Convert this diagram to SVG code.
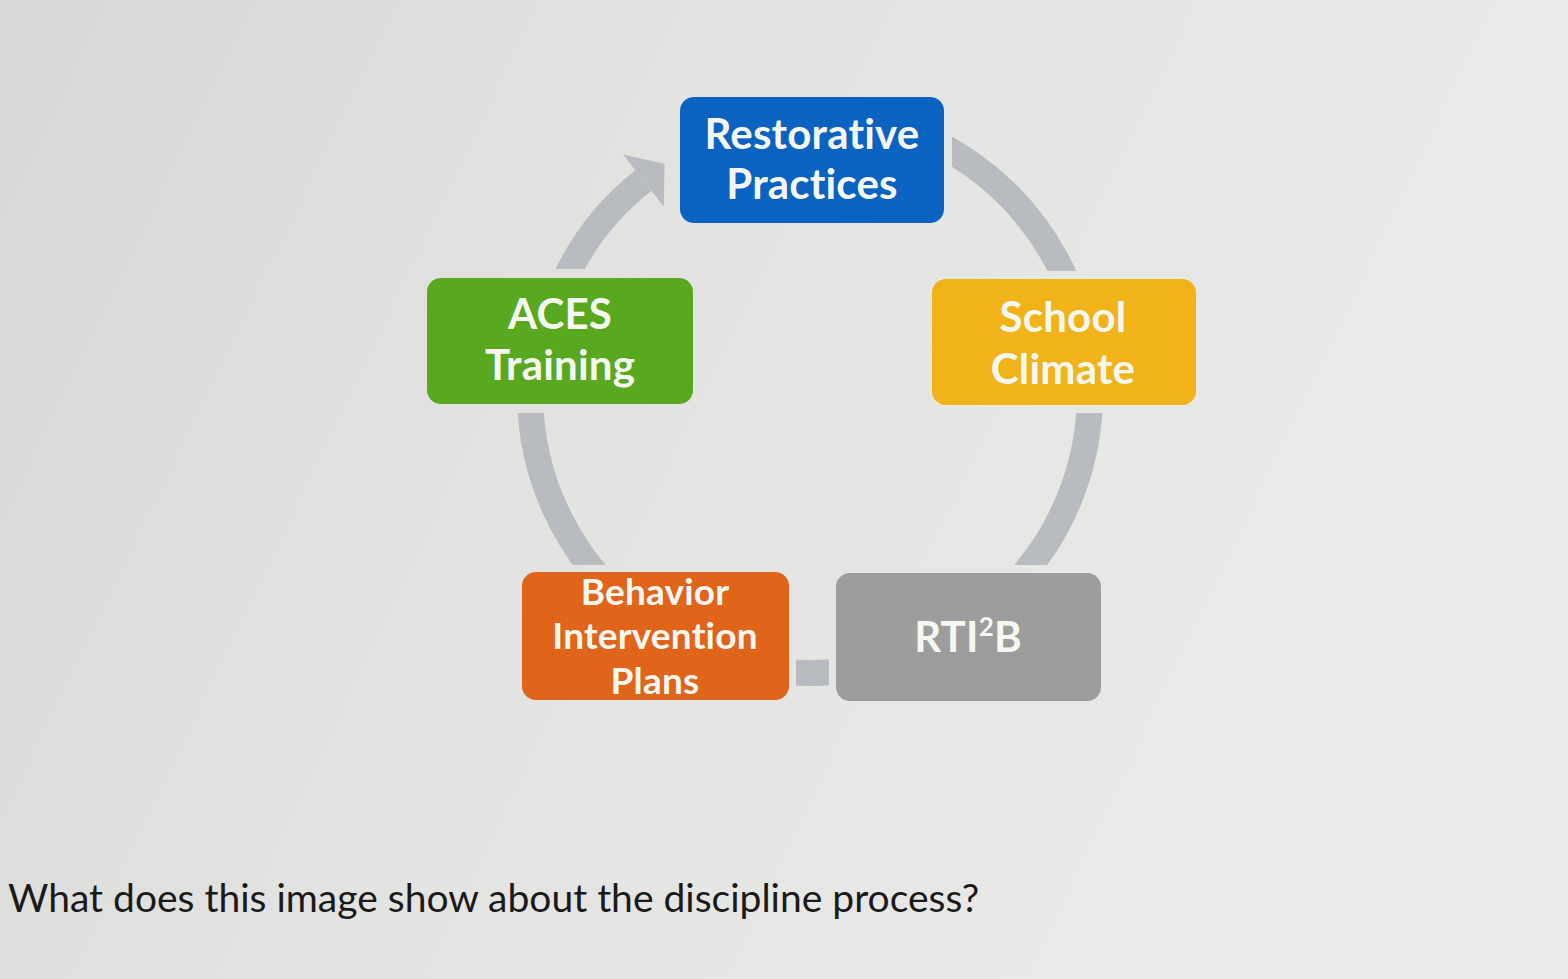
<svg xmlns="http://www.w3.org/2000/svg" width="1568" height="979" viewBox="0 0 1568 979">
  <defs>
    <linearGradient id="bg" x1="0" y1="0" x2="1" y2="0.3">
      <stop offset="0" stop-color="#d7d7d5"/>
      <stop offset="0.45" stop-color="#e3e3e1"/>
      <stop offset="1" stop-color="#eaeae8"/>
    </linearGradient>
    <mask id="ringMask" maskUnits="userSpaceOnUse" x="0" y="0" width="1568" height="979">
      <rect x="0" y="0" width="1568" height="979" fill="#fff"/>
      <rect x="672" y="89" width="280" height="142" rx="20" fill="#000"/>
      <rect x="419" y="269" width="282" height="144" rx="20" fill="#000"/>
      <rect x="924" y="271" width="280" height="142" rx="20" fill="#000"/>
      <rect x="515" y="565" width="281" height="143" rx="20" fill="#000"/>
      <rect x="829" y="565" width="280" height="144" rx="20" fill="#000"/>
    </mask>
    <style>
      .box { stroke: none; }
      .lbl { font-family: Lato, "Open Sans", sans-serif; font-weight: bold; fill: #f7f7f2; text-anchor: middle; font-variant-ligatures: none; font-feature-settings: "liga" 0, "clig" 0, "dlig" 0; letter-spacing: 0.2px; }
      .big { font-size: 42px; }
      .mid { font-size: 37px; }
      .ring { fill: none; stroke: #b8bbc0; stroke-width: 26; }
    </style>
  </defs>
  <rect x="0" y="0" width="1568" height="979" fill="url(#bg)"/>

  <g id="connectors" mask="url(#ringMask)">
    <path class="ring" d="M 546.9 297.2 A 280 280 0 1 0 905.8 129.9"/>
    <path class="ring" stroke-width="29" d="M 556.3 300.7 A 270 270 0 0 1 643.4 180.5"/>
    <polygon points="623.0,154.5 663.8,206.5 664.6,163.8" fill="#b8bbc0"/>
  </g>

  <g id="node-restorative">
    <rect class="box" x="680" y="97" width="264" height="126" rx="14" fill="#0a63c1"/>
    <text class="lbl big" x="812" y="149">Restorative</text>
    <text class="lbl big" x="812" y="199">Practices</text>
  </g>
  <g id="node-aces">
    <rect class="box" x="427" y="278" width="266" height="126" rx="14" fill="#58a920"/>
    <text class="lbl big" x="560" y="329">ACES</text>
    <text class="lbl big" x="560" y="380">Training</text>
  </g>
  <g id="node-school">
    <rect class="box" x="932" y="279" width="264" height="126" rx="14" fill="#f0b31a"/>
    <text class="lbl big" x="1063" y="332">School</text>
    <text class="lbl big" x="1063" y="384">Climate</text>
  </g>
  <g id="node-behavior">
    <rect class="box" x="522" y="572" width="267" height="128" rx="14" fill="#e0651b"/>
    <text class="lbl mid" x="655" y="605">Behavior</text>
    <text class="lbl mid" x="655" y="649">Intervention</text>
    <text class="lbl mid" x="655" y="694">Plans</text>
  </g>
  <g id="node-rti">
    <rect class="box" x="836" y="573" width="265" height="128" rx="14" fill="#9d9d9d"/>
    <text class="lbl big" x="968" y="652">RTI<tspan font-size="26px" dy="-16">2</tspan><tspan dy="16">B</tspan></text>
  </g>

  <text x="8" y="912" font-family="Lato, 'Open Sans', sans-serif" font-size="39px" fill="#1a1a1a">What does this image show about the discipline process?</text>
</svg>
